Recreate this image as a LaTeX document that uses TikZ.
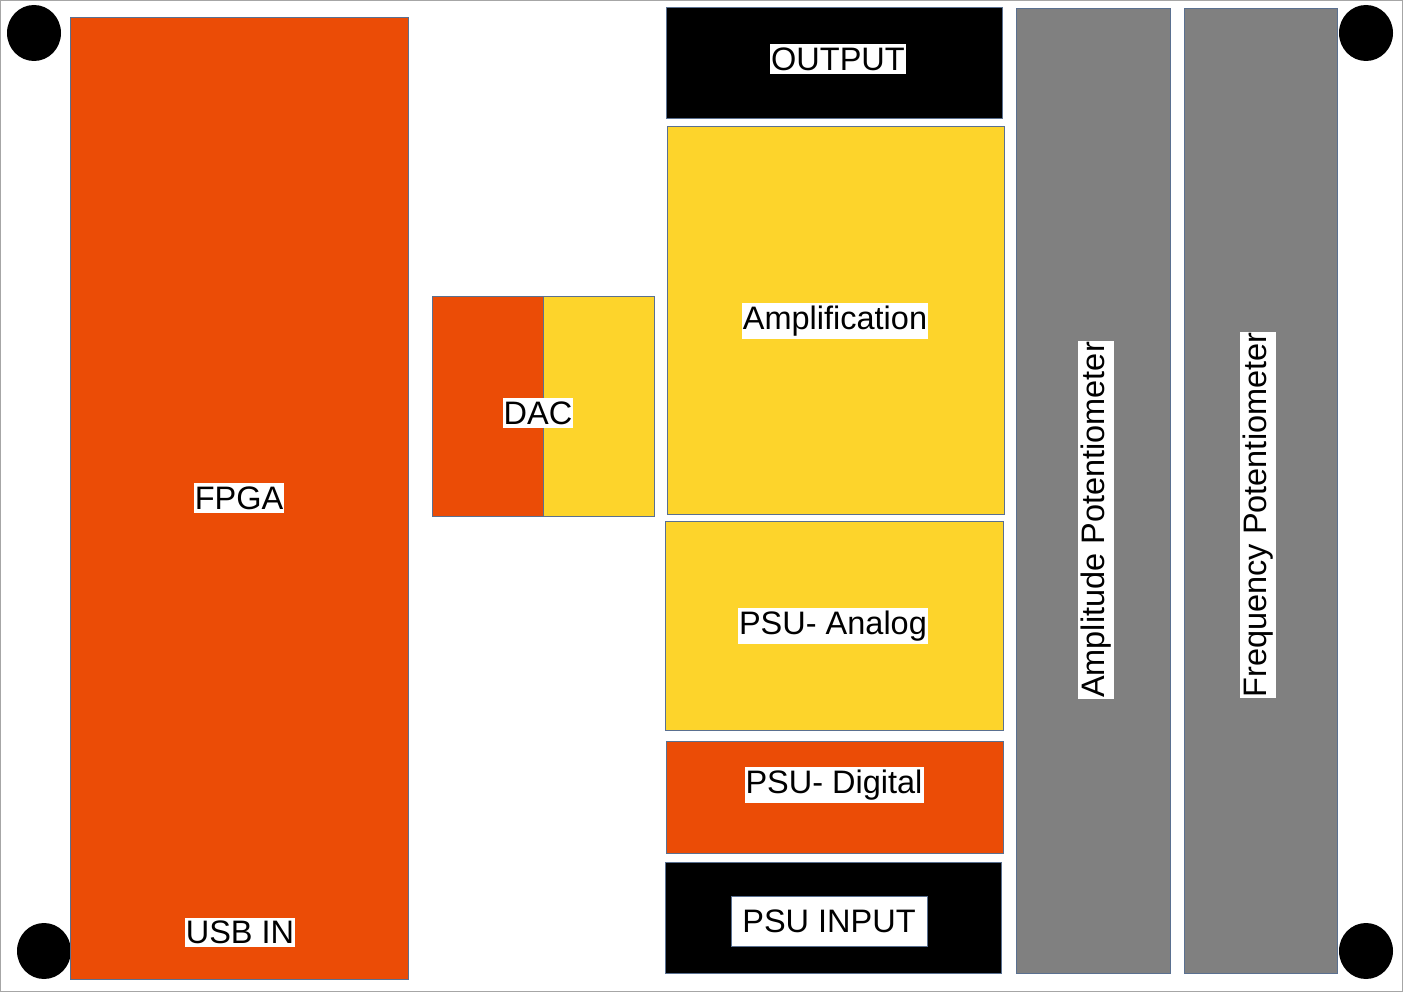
\documentclass[tikz,border=0pt]{standalone}
\usepackage{fontspec}
\setmainfont{Liberation Sans}
\definecolor{org}{HTML}{EB4C06}
\definecolor{yel}{HTML}{FDD42B}
\definecolor{gry}{HTML}{808080}
\definecolor{edg}{HTML}{5A7090}
\begin{document}
\begin{tikzpicture}[x=1pt,y=-1pt,
 blk/.style={draw=edg,line width=0.8pt},
 lbl/.style={fill=white,inner xsep=1pt,inner ysep=3pt,font=\fontsize{32.5}{32.5}\selectfont},
 hole/.style={fill=black,draw=black}]
\useasboundingbox (0,0) rectangle (1403,992);
\draw[gray!70] (0.5,0.5) rectangle (1402.5,991.5);
\foreach \n/\x/\y in {h1/34/33,h2/1366/33,h3/44/951,h4/1366/951}
  \fill[black] (\x,\y) circle[x radius=27,y radius=28];
\draw[blk,fill=org] (70,17) rectangle (408,979);
\node[lbl] (fpga) at (239,498) {FPGA};
\node[lbl] (usb) at (240,932) {USB IN};
\draw[blk,fill=org] (432,296) rectangle (543,516);
\draw[blk,fill=yel] (543,296) rectangle (654,516);
\node[lbl] (dac) at (538,413) {DAC};
\draw[blk,fill=black] (666,7) rectangle (1002,118);
\node[lbl] (out) at (838,59) {OUTPUT};
\draw[blk,fill=yel] (667,126) rectangle (1004,514);
\node[lbl] (amp) at (835,321) {Amplification};
\draw[blk,fill=yel] (665,521) rectangle (1003,730);
\node[lbl] (psua) at (833,626) {PSU- Analog};
\draw[blk,fill=org] (666,741) rectangle (1003,853);
\node[lbl] (psud) at (834,785) {PSU- Digital};
\draw[blk,fill=black] (665,862) rectangle (1001,973);
\node[lbl,draw=edg,minimum width=196pt,minimum height=50pt] (psui) at (829,921) {PSU INPUT};
\draw[blk,fill=gry] (1016,8) rectangle (1170,973);
\node[lbl,rotate=90] (ampp) at (1096,520) {Amplitude Potentiometer};
\draw[blk,fill=gry] (1184,8) rectangle (1337,973);
\node[lbl,rotate=90] (frq) at (1258,515) {Frequency Potentiometer};
\end{tikzpicture}
\end{document}
